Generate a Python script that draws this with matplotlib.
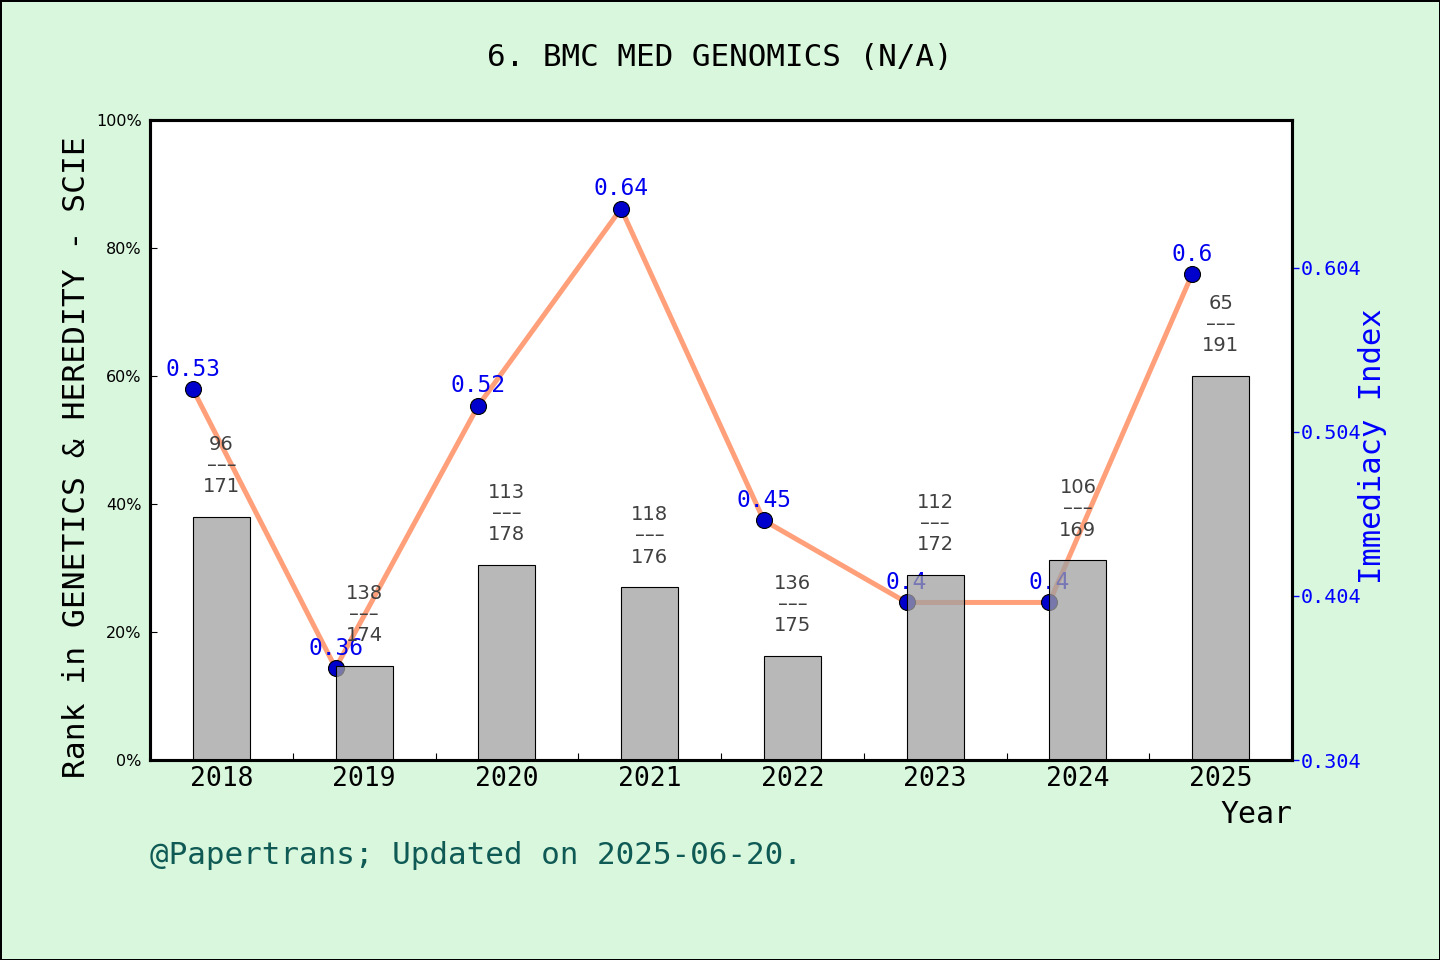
import numpy as np
import matplotlib
matplotlib.use('Agg')
import matplotlib.pyplot as plt
from matplotlib.ticker import FixedLocator

# data
years = ['2018', '2019', '2020', '2021', '2022', '2023', '2024', '2025']
ranks = [96, 138, 113, 118, 136, 112, 106, 65]
totals = [171, 174, 178, 176, 175, 172, 169, 191]
rank_pct = [38.0, 14.7, 30.5, 27.0, 16.3, 28.9, 31.2, 60.0]
immediacy = [0.53, 0.36, 0.52, 0.64, 0.45, 0.40, 0.40, 0.60]
right_ticks = [0.304, 0.404, 0.504, 0.604]

MONO = 'DejaVu Sans Mono'
BG = '#d9f7dd'

fig = plt.figure(figsize=(14.4, 9.6), dpi=100, facecolor=BG,
                 edgecolor='black', linewidth=1)
ax = fig.add_axes([150/1440, 200/960, 1142/1440, 640/960])
ax2 = ax.twinx()

x = np.arange(len(years)) + 0.5

# line on the twin axis, drawn underneath the bars
ax2.plot(x - 0.2, immediacy, color='#ffa07a', lw=3.6, zorder=2)
ax2.plot(x - 0.2, immediacy, 'o', ms=11.5, mfc='#0000cd', mec='black',
         mew=0.8, zorder=3)
for xi, v in zip(x - 0.2, immediacy):
    ax2.annotate(f'{v:g}', (xi, v), xytext=(0, 6), textcoords='offset points',
                 ha='center', va='bottom', color='#0000ee', fontsize=16.5,
                 family=MONO)
ax2.set_ylim(0.304, 0.694)
ax2.set_yticks(right_ticks)
ax2.set_yticklabels([f'{t:.3f}' for t in right_ticks])
ax2.tick_params(axis='y', direction='out', length=5, width=1, colors='blue',
                labelsize=14.5, pad=1)
for lab in ax2.get_yticklabels():
    lab.set_family(MONO)
ax2.set_ylabel('Immediacy Index', color='blue', fontsize=22, family=MONO)
ax2.yaxis.set_label_coords(1.058, 0.49)
ax2.patch.set_visible(True)
ax2.patch.set_facecolor('white')

# bars on the main axis, put above the twin so they cover the line
ax.set_zorder(ax2.get_zorder() + 1)
ax.patch.set_visible(False)
ax.bar(x, rank_pct, width=0.4, color=(160/255, 160/255, 162/255, 0.75),
       edgecolor='black', linewidth=0.8)
for xi, h, r, t in zip(x, rank_pct, ranks, totals):
    ax.annotate(f'{r}\n\u2013\u2013\u2013\n{t}', (xi, h), xytext=(0, 37),
                textcoords='offset points', ha='center', va='center',
                color='#404040', fontsize=14,
                family=['DejaVu Sans', 'Noto Sans CJK SC'], linespacing=1.15)

ax.set_xlim(0, len(years))
ax.set_ylim(0, 100)
ax.set_xticks(x)
ax.set_xticklabels(years, family=MONO, fontsize=19)
ax.xaxis.set_minor_locator(FixedLocator(np.arange(1, len(years))))
ax.tick_params(axis='x', which='major', length=0, pad=4)
ax.tick_params(axis='x', which='minor', direction='in', length=5, width=0.8)
ax.set_yticks(np.arange(0, 101, 20))
ax.set_yticklabels([f'{v}%' for v in range(0, 101, 20)], fontsize=11.5)
ax.tick_params(axis='y', direction='in', length=5, width=0.8, pad=6)
ax.set_ylabel('Rank in GENETICS & HEREDITY - SCIE', fontsize=22.5, family=MONO)
ax.yaxis.set_label_coords(-0.052, 0.473)
ax.set_xlabel('Year', fontsize=21.5, family=MONO, loc='right', labelpad=6)

for a in (ax, ax2):
    for s in a.spines.values():
        s.set_linewidth(2.2)

fig.text(0.5, 1 - 57/960, '6. BMC MED GENOMICS (N/A)', ha='center',
         va='center', fontsize=22.3, family=MONO)
fig.text(150/1440, 1 - 855/960, '@Papertrans; Updated on 2025-06-20.',
         ha='left', va='center', fontsize=22.3, family=MONO, color='#0f5a55')

fig.savefig('out.png', dpi=100, facecolor=BG, edgecolor='black')
